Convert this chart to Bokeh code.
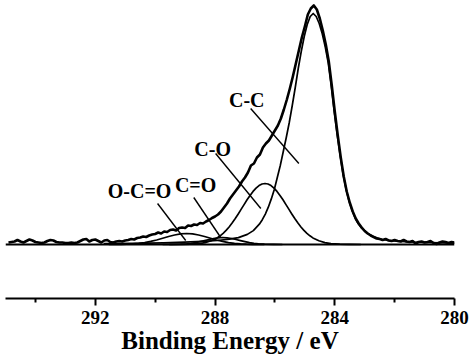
from bokeh.plotting import figure
from bokeh.models import Range1d, FixedTicker, ColumnDataSource
from bokeh.core.properties import value
from bokeh.embed import file_html
from bokeh.resources import INLINE

# ---- measured spectrum (binding energy in eV, intensity in arbitrary units above baseline)
be_data = [294.9, 294.8, 294.7, 294.6, 294.5, 294.4, 294.3, 294.2, 294.1, 294.0,
           293.9, 293.8, 293.7, 293.6, 293.5, 293.4, 293.3, 293.2, 293.1, 293.0,
           292.9, 292.8, 292.7, 292.6, 292.5, 292.4, 292.3, 292.2, 292.1, 292.0,
           291.9, 291.8, 291.7, 291.6, 291.5, 291.4, 291.3, 291.2, 291.1, 291.0,
           290.9, 290.8, 290.7, 290.6, 290.5, 290.4, 290.3, 290.2, 290.1, 290.0,
           289.9, 289.8, 289.7, 289.6, 289.5, 289.4, 289.3, 289.2, 289.1, 289.0,
           288.9, 288.8, 288.7, 288.6, 288.5, 288.4, 288.3, 288.2, 288.1, 288.0,
           287.9, 287.8, 287.7, 287.6, 287.5, 287.4, 287.3, 287.2, 287.1, 287.0,
           286.9, 286.8, 286.7, 286.6, 286.5, 286.4, 286.3, 286.2, 286.1, 286.0,
           285.9, 285.8, 285.7, 285.6, 285.5, 285.4, 285.3, 285.2, 285.1, 285.0,
           284.9, 284.8, 284.7, 284.6, 284.5, 284.4, 284.3, 284.2, 284.1, 284.0,
           283.9, 283.8, 283.7, 283.6, 283.5, 283.4, 283.3, 283.2, 283.1, 283.0,
           282.9, 282.8, 282.7, 282.6, 282.5, 282.4, 282.3, 282.2, 282.1, 282.0,
           281.9, 281.8, 281.7, 281.6, 281.5, 281.4, 281.3, 281.2, 281.1, 281.0,
           280.9, 280.8, 280.7, 280.6, 280.5, 280.4, 280.3, 280.2, 280.1, 280.0]
int_data = [2, 2.5, 3, 4.5, 3, 2, 3.5, 5, 4, 2.5,
            2, 1.5, 2, 3.5, 4.5, 4, 2.5, 2, 2, 1.5,
            1.5, 2, 1.5, 2, 3.5, 5, 5.5, 3, 4.5, 5,
            3.5, 2, 4, 4.5, 2.5, 2, 3, 3.5, 3, 4,
            4.5, 5.5, 5, 6.5, 7, 8, 7.5, 9, 10, 10.5,
            12, 11, 13, 12.5, 14.5, 15, 14, 16.5, 17, 16.5,
            19, 18.5, 20, 19.5, 21.5, 21, 23, 24.5, 26.5, 28,
            30, 33, 37, 41, 46, 50, 54, 58, 63, 67,
            72, 79, 81, 87, 90, 97, 101, 104, 109, 114,
            119, 126, 135, 145, 156, 168, 181, 194, 207, 218,
            230, 236, 239, 235, 226, 214, 200, 183, 159, 133,
            109, 87, 68, 53, 42, 33, 26, 21, 17, 13.5,
            11, 9, 7.5, 6, 5.5, 4.5, 5.5, 4, 3.5, 4.5,
            3.5, 3, 4.5, 3, 2.5, 3.5, 1, 2.5, 3, 2,
            2.5, 3.5, 1.5, 0.5, 2, 3, 2.5, 1.5, 2.5, 2]

# ---- fitted components
cc_be = [291.72, 290.72, 289.72, 289.02, 288.42, 287.92, 287.52, 287.22, 286.92, 286.72,
         286.52, 286.42, 286.32, 286.22, 286.12, 286.02, 285.92, 285.82, 285.72, 285.62,
         285.52, 285.42, 285.32, 285.22, 285.12, 285.02, 284.92, 284.82, 284.72, 284.62,
         284.52, 284.42, 284.32, 284.22, 284.12, 284.02, 283.92, 283.82, 283.72, 283.62,
         283.52, 283.42, 283.32, 283.22, 283.12, 282.92, 282.72, 282.42, 282.02, 281.52,
         280.92, 280.0]
cc_val = [0.9, 1.2, 1.7, 2.3, 3.1, 4.0, 5.3, 6.9, 10.1, 13.9,
          20.3, 24.8, 30.4, 37.3, 45.6, 55, 67, 79, 93, 107,
          122, 139, 157, 176, 193, 208, 220, 228, 231, 228,
          221, 211, 198, 182, 159, 133, 110, 89, 70, 55,
          43, 34, 26.5, 21, 17, 11.5, 8, 5, 3.5, 2.5,
          2, 1.4]

co_be = [289.53, 289.13, 288.83, 288.53, 288.33, 288.13, 287.93, 287.83, 287.73, 287.63,
         287.53, 287.43, 287.33, 287.23, 287.13, 287.03, 286.93, 286.83, 286.73, 286.63,
         286.53, 286.43, 286.33, 286.23, 286.13, 286.03, 285.93, 285.83, 285.73, 285.63,
         285.53, 285.43, 285.33, 285.23, 285.13, 285.03, 284.93, 284.83, 284.73, 284.53,
         284.33, 284.13, 283.83, 283.53, 283.13]
co_val = [0, 0.1, 0.3, 0.9, 1.9, 3.7, 6.6, 8.7, 11.2, 14.1,
          17.5, 21.4, 25.7, 30.3, 35.1, 39.9, 44.7, 49.1, 53.1, 56.4,
          58.9, 60.5, 61, 60.5, 58.9, 56.4, 53.1, 49.1, 44.7, 39.9,
          35.1, 30.3, 25.7, 21.4, 17.5, 14.1, 11.2, 8.7, 6.6, 3.7,
          1.9, 0.9, 0.3, 0.1, 0]

cdo_be = [289.75, 289.45, 289.15, 288.95, 288.8, 288.65, 288.5, 288.35, 288.2, 288.05,
          287.9, 287.75, 287.6, 287.45, 287.3, 287.15, 287.0, 286.85, 286.7, 286.55,
          286.35, 286.05, 285.75]
cdo_val = [0, 0.1, 0.3, 0.6, 1.1, 1.8, 2.8, 3.9, 5.0, 6.0,
           6.7, 7, 6.7, 6.0, 5.0, 3.9, 2.8, 1.8, 1.1, 0.6,
           0.3, 0.1, 0]

ocdo_be = [291.55, 291.35, 291.15, 290.95, 290.75, 290.55, 290.35, 290.15, 289.95, 289.75,
           289.55, 289.35, 289.15, 288.95, 288.75, 288.55, 288.35, 288.15, 287.95, 287.75,
           287.55, 287.35, 287.15, 286.95, 286.75, 286.55, 286.35]
ocdo_val = [0, 0.07, 0.15, 0.3, 0.6, 1.1, 1.9, 3.1, 4.5, 6.2,
            8.0, 9.5, 10.6, 11, 10.6, 9.5, 8.0, 6.2, 4.5, 3.1,
            1.9, 1.1, 0.6, 0.3, 0.15, 0.07, 0]

baseline_be = [295.0, 280.0]
baseline_val = [0, 0]

# ---- annotations
label_text = ["C-C", "C-O", "C=O", "O-C=O"]
label_be = [286.94, 288.08, 288.65, 290.52]
label_h = [145, 96, 60, 54]
lead_be0 = [286.81, 287.98, 288.71, 289.92]
lead_h0 = [136, 91, 47, 41]
lead_be1 = [285.20, 286.47, 287.81, 288.98]
lead_h1 = [81, 36, 7, 4]

major_ticks = [292, 288, 284, 280]
minor_ticks = [294, 290, 286, 282]
x_title = "Binding Energy / eV"

SERIF = "Liberation Serif"

p = figure(width=470, height=362, output_backend="svg", toolbar_location=None,
           x_range=Range1d(295.0, 280.0), y_range=Range1d(-54, 244),
           min_border_left=5, min_border_right=16, min_border_top=0, min_border_bottom=64)
p.background_fill_color = "white"
p.border_fill_color = "white"
p.outline_line_color = None
p.xgrid.visible = False
p.ygrid.visible = False
p.yaxis.visible = False

ax = p.xaxis[0]
ax.ticker = FixedTicker(ticks=major_ticks, minor_ticks=minor_ticks)
ax.axis_line_width = 2
ax.axis_line_color = "black"
ax.major_tick_line_width = 2
ax.minor_tick_line_width = 2
ax.major_tick_out = 7
ax.major_tick_in = 0
ax.minor_tick_out = 4
ax.minor_tick_in = 0
ax.major_label_text_font = SERIF
ax.major_label_text_font_style = "bold"
ax.major_label_text_font_size = "19px"
ax.major_label_text_color = "black"
ax.major_label_standoff = 5
ax.axis_label = x_title
ax.axis_label_text_font = SERIF
ax.axis_label_text_font_style = "bold"
ax.axis_label_text_font_size = "25px"
ax.axis_label_text_color = "black"
ax.axis_label_standoff = 0

# baseline
p.line(baseline_be, baseline_val, line_color="black", line_width=2)
# components
for xs, ys in [(cc_be, cc_val), (co_be, co_val), (cdo_be, cdo_val), (ocdo_be, ocdo_val)]:
    p.line(xs, ys, line_color="black", line_width=1.7, line_join="round")
# measured data
p.line(be_data, int_data, line_color="black", line_width=2.6, line_join="round")

# leader lines
p.segment(x0=lead_be0, y0=lead_h0, x1=lead_be1, y1=lead_h1, line_color="black", line_width=1.4)

# labels
lab_src = ColumnDataSource(dict(x=label_be, y=label_h, t=label_text))
p.text(x="x", y="y", text="t", source=lab_src, text_font=value(SERIF), text_font_style="bold",
       text_font_size="20px", text_align="center", text_baseline="middle", text_color="black")

open("out.html", "w").write(file_html(p, INLINE))
